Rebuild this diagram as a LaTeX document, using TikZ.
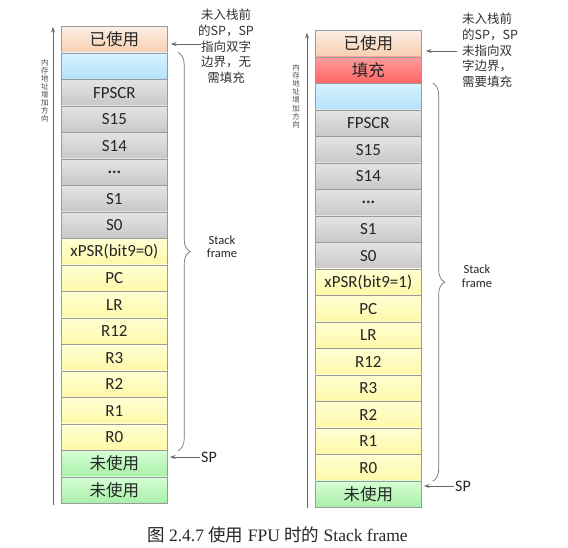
\documentclass[tikz,border=0pt]{standalone}
\usepackage{fontspec}
\setmainfont{Carlito}
\newfontfamily\cjk{Noto Sans CJK SC}
\newfontfamily\tnr{Liberation Serif}
\usetikzlibrary{decorations.pathreplacing,arrows.meta}
\definecolor{peachT}{HTML}{FCEEE4}
\definecolor{peachB}{HTML}{F8CEB0}
\definecolor{blueT}{HTML}{D8F2FF}
\definecolor{blueB}{HTML}{B2E2FB}
\definecolor{grayT}{HTML}{E4E4E4}
\definecolor{grayB}{HTML}{C8C8C8}
\definecolor{yelT}{HTML}{FFFFD4}
\definecolor{yelB}{HTML}{FFF8A8}
\definecolor{grnT}{HTML}{D6FFD6}
\definecolor{grnB}{HTML}{A8EFA8}
\definecolor{redT}{HTML}{FF9E9E}
\definecolor{redB}{HTML}{FF6464}
\definecolor{cellborder}{HTML}{9A9A9A}
\newcommand\stkcell[5]{\node[cell, top color=#4T, bottom color=#4B] (#1) at (#2,#3) {#5};}
\newcommand\cz{\cjk\fontsize{16.5}{18}\selectfont}
\begin{document}
\begin{tikzpicture}[x=1pt,y=-1pt,
  cell/.style={draw=cellborder, line width=0.7pt, minimum width=106pt, minimum height=26.5pt,
    anchor=north west, inner sep=0pt, font=\fontsize{17}{18}\selectfont, text=black!85},
  conn/.style={draw=black!60, line width=0.7pt, -{Stealth[length=5.5pt,width=4pt]}},
  brc/.style={draw=black!55, line width=0.7pt, decorate, decoration={brace, amplitude=12pt}},
  note/.style={font=\cjk\fontsize{12.5}{15.7}\selectfont, text=black!80, inner sep=0pt},
  small/.style={font=\fontsize{12.5}{13.5}\selectfont, text=black!85, align=center, inner sep=0pt},
  vtext/.style={font=\cjk\fontsize{7.5}{8.1}\selectfont, text=black!70, align=center, inner sep=0pt}
]
\useasboundingbox (0,0) rectangle (568,547);

% left stack
\stkcell{L0}{61}{26}{peach}{\cz 已使用}
\stkcell{L1}{61}{52.5}{blue}{}
\stkcell{L2}{61}{79}{gray}{FPSCR}
\stkcell{L3}{61}{105.5}{gray}{S15}
\stkcell{L4}{61}{132}{gray}{S14}
\stkcell{L5}{61}{158.5}{gray}{\textbf{...}}
\stkcell{L6}{61}{185}{gray}{S1}
\stkcell{L7}{61}{211.5}{gray}{S0}
\stkcell{L8}{61}{238}{yel}{xPSR(bit9=0)}
\stkcell{L9}{61}{264.5}{yel}{PC}
\stkcell{L10}{61}{291}{yel}{LR}
\stkcell{L11}{61}{317.5}{yel}{R12}
\stkcell{L12}{61}{344}{yel}{R3}
\stkcell{L13}{61}{370.5}{yel}{R2}
\stkcell{L14}{61}{397}{yel}{R1}
\stkcell{L15}{61}{423.5}{yel}{R0}
\stkcell{L16}{61}{450}{grn}{\cz 未使用}
\stkcell{L17}{61}{476.5}{grn}{\cz 未使用}

% right stack
\stkcell{R0}{315}{30}{peach}{\cz 已使用}
\stkcell{R1}{315}{56.5}{red}{\cz 填充}
\stkcell{R2}{315}{83}{blue}{}
\stkcell{R3}{315}{109.5}{gray}{FPSCR}
\stkcell{R4}{315}{136}{gray}{S15}
\stkcell{R5}{315}{162.5}{gray}{S14}
\stkcell{R6}{315}{189}{gray}{\textbf{...}}
\stkcell{R7}{315}{215.5}{gray}{S1}
\stkcell{R8}{315}{242}{gray}{S0}
\stkcell{R9}{315}{268.5}{yel}{xPSR(bit9=1)}
\stkcell{R10}{315}{295}{yel}{PC}
\stkcell{R11}{315}{321.5}{yel}{LR}
\stkcell{R12}{315}{348}{yel}{R12}
\stkcell{R13}{315}{374.5}{yel}{R3}
\stkcell{R14}{315}{401}{yel}{R2}
\stkcell{R15}{315}{427.5}{yel}{R1}
\stkcell{R16}{315}{454}{yel}{R0}
\stkcell{R17}{315}{480.5}{grn}{\cz 未使用}

% address direction arrows and labels
\coordinate (vLb) at (53,505);
\coordinate (vLt) at (53,27);
\coordinate (vRb) at (307,508);
\coordinate (vRt) at (307,33);
\draw[conn] (vLb) -- (vLt);
\draw[conn] (vRb) -- (vRt);
\node[vtext] (vL) at (45,90.5) {内\\存\\地\\址\\增\\加\\方\\向};
\node[vtext] (vR) at (296,96) {内\\存\\地\\址\\增\\加\\方\\向};

% annotations
\node[note, align=center] (nL) at (226,46.5) {未入栈前\\的SP，SP\\指向双字\\边界，无\\需填充};
\node[note, align=left, anchor=west] (nR) at (462,50.5) {未入栈前\\的SP，SP\\未指向双\\字边界，\\需要填充};
\coordinate (aL1) at (201,44);
\coordinate (aL2) at (171,44);
\coordinate (aR1) at (457,51);
\coordinate (aR2) at (426,51);
\draw[conn] (aL1) -- (aL2);
\draw[conn] (aR1) -- (aR2);

% braces
\draw[brc] ([xshift=10.5pt]L1.north east) -- ([xshift=10.5pt]L15.south east);
\draw[brc] ([xshift=11pt]R2.north east) -- ([xshift=11pt]R16.south east);
\node[small] (sfL) at (222,246.5) {Stack\\frame};
\node[small] (sfR) at (477,276) {Stack\\frame};

% SP pointers
\node[font=\fontsize{16}{18}\selectfont, text=black!85, anchor=west, inner sep=1pt] (spL) at (200,457) {SP};
\node[font=\fontsize{16}{18}\selectfont, text=black!85, anchor=west, inner sep=1pt] (spR) at (454,486) {SP};
\coordinate (pL) at (170,457);
\coordinate (pR) at (424,486);
\draw[conn] (spL.west) -- (pL);
\draw[conn] (spR.west) -- (pR);

% caption
\node[font=\tnr\fontsize{17.5}{19}\selectfont, text=black!85, inner sep=0pt] (cap) at (277.5,535)
  {{\cjk 图} 2.4.7 {\cjk 使用} FPU {\cjk 时的} Stack frame};
\end{tikzpicture}
\end{document}
